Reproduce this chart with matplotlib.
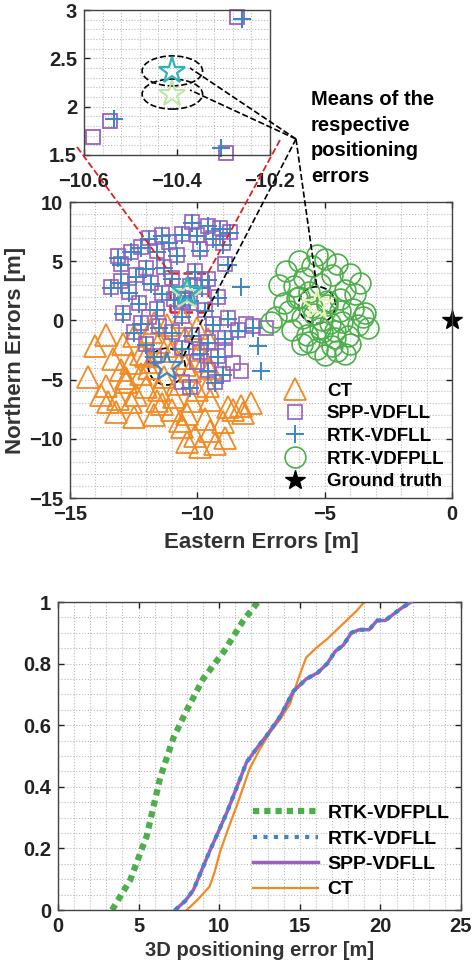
import matplotlib
matplotlib.use("Agg")
import matplotlib.pyplot as plt
import numpy as np
from matplotlib.lines import Line2D
from matplotlib.patches import Rectangle, Ellipse

plt.rcParams['font.family'] = ['Liberation Sans', 'DejaVu Sans']
plt.rcParams['font.weight'] = 'bold'

C_CT = '#F28A24'; C_SPP = '#9B5FC0'; C_RTK = '#3D85C6'; C_FP = '#4DAF4A'

# ---------------- data ----------------
ct_pts = [(-10.6,0.3),(-11.2,-0.4),(-10.0,-0.6),(-11.8,-1.0),(-12.5,-1.3),(-13.6,-1.2),(-14.0,-2.2),(-12.9,-2.0),
          (-11.5,-1.8),(-10.5,-1.5),(-9.6,-1.6),(-12.2,-2.8),(-11.0,-2.6),(-9.9,-2.5),(-13.3,-3.3),(-12.6,-3.6),
          (-11.8,-3.5),(-10.6,-3.2),(-9.7,-3.4),(-14.3,-4.8),(-13.0,-4.2),(-12.2,-4.5),(-11.3,-4.8),(-10.3,-4.3),
          (-9.5,-4.0),(-13.6,-5.5),(-12.8,-5.2),(-12.0,-5.6),(-11.5,-5.9),(-10.8,-5.4),(-10.0,-5.9),(-9.6,-5.5),
          (-13.8,-6.3),(-13.1,-6.6),(-12.4,-6.3),(-11.6,-6.8),(-10.9,-6.5),(-10.2,-6.8),(-9.5,-6.7),(-8.8,-7.3),
          (-8.3,-7.2),(-7.9,-7.0),(-8.6,-7.6),(-13.2,-7.7),(-12.5,-8.2),(-11.7,-8.0),(-11.0,-7.6),(-10.4,-7.9),
          (-9.7,-8.3),(-9.0,-8.6),(-12.6,-6.9),(-11.4,-7.1),(-10.6,-9.0),(-10.1,-9.8),(-9.5,-9.3),(-9.9,-10.7),
          (-10.4,-10.3),(-9.3,-10.4),(-8.9,-9.9),(-13.5,-6.9),(-12.0,-3.0),(-11.9,-4.0),(-10.5,-3.8),(-11.2,-2.2),
          (-11.7,-0.2),(-12.8,-4.9),(-10.7,-8.5),(-8.2,-7.8)]
spp_pts = [(-10.2,8.3),(-9.6,8.0),(-9.1,7.8),(-10.6,7.3),(-11.4,7.2),(-11.9,7.0),(-11.1,6.6),(-10.0,7.2),(-9.4,7.0),
           (-12.2,6.2),(-12.6,5.8),(-13.1,5.4),(-13.0,4.8),(-11.6,5.9),(-10.8,5.5),(-9.9,6.0),(-9.0,6.5),(-8.7,7.5),
           (-11.3,4.5),(-12.0,4.4),(-12.4,3.8),(-13.4,2.8),(-12.7,2.4),(-11.8,3.2),(-11.0,3.6),(-10.1,4.2),(-8.9,4.8),
           (-9.6,3.5),(-12.3,1.5),(-11.6,1.0),(-10.9,1.8),(-9.8,2.8),(-9.2,2.0),(-12.9,0.6),(-12.2,-0.2),(-11.5,-0.5),
           (-10.6,0.4),(-9.7,0.9),(-9.4,-0.3),(-8.8,0.2),(-8.4,-0.8),(-7.8,-0.5),(-7.3,-0.6),(-8.1,-0.3),(-11.0,-1.0),
           (-10.2,-1.2),(-9.6,-1.8),(-8.9,-1.5),(-10.6,-2.3),(-9.9,-2.7),(-9.2,-3.0),(-11.7,-3.0),(-12.0,-2.0),
           (-9.6,-4.2),(-9.0,-4.5),(-8.6,-3.6),(-9.3,-5.2),(-10.3,-5.6),(-10.6,-5.2),(-12.5,-1.0),(-10.3,2.9),
           (-10.5,1.9),(-10.6,1.7),(-10.3,1.5),(-11.4,2.3),(-11.9,0.3),(-13.0,3.3),(-8.3,-4.3),(-8.9,-2.5),(-10.0,-3.5)]
rtk_pts = [(-10.2,8.2),(-9.6,8.0),(-9.1,7.7),(-10.6,7.2),(-11.4,7.1),(-11.9,6.9),(-11.1,6.5),(-10.0,7.1),(-9.4,6.9),
           (-12.2,6.1),(-12.6,5.8),(-13.1,5.3),(-13.0,4.7),(-11.6,5.8),(-10.8,5.4),(-9.9,5.9),(-9.0,6.4),(-8.7,7.4),
           (-11.3,4.4),(-12.0,4.3),(-12.4,3.7),(-13.4,2.7),(-12.7,2.3),(-11.8,3.1),(-11.0,3.5),(-10.1,4.1),(-8.8,4.7),
           (-9.6,3.4),(-12.3,1.4),(-11.6,0.9),(-10.9,1.7),(-9.8,2.7),(-9.2,1.9),(-12.9,0.5),(-12.2,-0.3),(-11.5,-0.6),
           (-10.6,0.3),(-9.7,0.8),(-9.4,-0.4),(-8.8,0.1),(-8.4,-0.9),(-7.8,-0.6),(-11.0,-1.1),(-10.2,-1.3),(-9.6,-1.9),
           (-8.9,-1.6),(-10.6,-2.4),(-9.9,-2.8),(-9.2,-3.1),(-11.7,-3.1),(-12.0,-2.1),(-9.6,-4.3),(-9.0,-4.6),
           (-9.3,-5.3),(-10.3,-5.7),(-12.5,-1.1),(-10.3,2.9),(-10.5,1.9),(-10.3,1.6),(-11.4,2.2),(-13.0,3.2),
           (-7.6,-2.2),(-7.5,-4.3),(-8.3,2.8)]
fp_pts = [(-5.3,5.5),(-6.8,3.0),(-6.5,4.2),(-6.0,5.0),(-5.5,4.6),(-5.0,5.2),(-4.5,4.8),(-4.0,3.9),(-3.6,3.2),
          (-6.2,2.9),(-5.8,3.6),(-5.2,3.1),(-4.7,3.8),(-4.2,2.6),(-3.8,2.2),(-6.6,1.5),(-6.1,1.9),(-5.6,2.4),
          (-4.9,1.6),(-4.4,1.8),(-3.9,1.0),(-3.4,0.6),(-6.9,0.3),(-6.4,0.8),(-5.9,0.2),(-5.4,0.5),(-4.8,-0.2),
          (-4.3,-0.1),(-3.7,-0.4),(-3.3,-0.6),(-6.3,-0.8),(-5.7,-1.2),(-5.1,-1.0),(-4.6,-1.5),(-4.1,-1.3),
          (-5.9,-2.0),(-5.3,-2.4),(-4.7,-2.2),(-4.2,-2.8),(-5.6,-1.8),(-5.0,-2.9),(-4.5,-2.6),(-4.0,-2.0),
          (-5.1,0.0),(-4.4,0.8),(-6.0,2.0),(-5.5,1.1),(-4.9,1.3),(-5.2,-0.6),(-4.6,-0.9),(-7.1,-0.1),(-3.5,0.3)]
inset_spp = [(-10.27,2.93),(-10.545,1.85),(-10.58,1.69),(-10.295,1.52)]
inset_rtk = [(-10.26,2.91),(-10.535,1.87),(-10.305,1.57)]
mean_spp = (-10.41, 2.13)
mean_rtk = (-10.41, 2.37)
mean_ct = (-11.2, -3.9)
mean_fp = (-5.3, 1.3)

cdf_fp_x = [3.35,4.48,5.5,6.34,7.17,8.0,9.0,10.3,11.5,12.4]
cdf_fp_p = [0,0.097,0.24,0.43,0.56,0.65,0.75,0.84,0.94,1.0]
cdf_fll_x = [7.27,7.9,8.4,9.0,9.4,10.0,10.5,11.1,11.7,12.4,13.0,13.8,14.6,15.4,16.1,16.7,17.2,17.7,18.2,18.7,19.3,19.8,20.3,20.8,21.3,21.9]
cdf_fll_p = [0,0.03,0.065,0.14,0.19,0.26,0.32,0.40,0.48,0.53,0.57,0.63,0.71,0.75,0.77,0.80,0.84,0.86,0.90,0.91,0.91,0.94,0.94,0.96,0.98,1.0]
cdf_ct_x = [7.99,8.6,9.4,9.7,10.06,10.6,11.1,11.5,11.9,12.5,13.2,13.8,14.4,14.9,15.4,16.0,16.7,17.3,17.9,18.5,19.0]
cdf_ct_p = [0,0.03,0.076,0.12,0.19,0.27,0.34,0.40,0.46,0.52,0.58,0.62,0.67,0.75,0.82,0.85,0.88,0.91,0.94,0.97,1.0]

W, H = 474, 975
fig = plt.figure(figsize=(W/100, H/100), dpi=100)
def rect(l, t, r, b):
    return [l/W, 1-b/H, (r-l)/W, (b-t)/H]

TS = 14.5
def style(ax, xminor, yminor):
    ax.tick_params(direction='in', top=True, right=True, labelsize=TS, width=1, length=4,
                   colors='#222222', pad=5)
    ax.set_xticks(xminor, minor=True); ax.set_yticks(yminor, minor=True)
    ax.tick_params(which='minor', length=0)
    ax.grid(True, which='both', linestyle=':', color='#bbbbbb', linewidth=0.8)
    ax.set_axisbelow(True)
    for s in ax.spines.values():
        s.set_color('#444444'); s.set_linewidth(1)
    for lab in ax.get_xticklabels() + ax.get_yticklabels():
        lab.set_fontweight('bold')

# inset
ai = fig.add_axes(rect(84, 10, 270, 155))
ai.set_xlim(-10.6, -10.2); ai.set_ylim(1.5, 3)
ai.set_xticks([-10.6, -10.4, -10.2]); ai.set_yticks([1.5, 2, 2.5, 3])
ai.set_yticklabels(['1.5', '2', '2.5', '3'])
style(ai, np.arange(-10.6, -10.19, 0.04), np.arange(1.5, 3.01, 0.1))
ai.tick_params(right=False, top=False)
ai.tick_params(axis='x', pad=12)
ai.plot(*zip(*inset_spp), 's', mfc='none', mec=C_SPP, ms=10, mew=1.3, clip_on=False)
ai.plot(*zip(*inset_rtk), '+', color=C_RTK, ms=13, mew=1.5, clip_on=False)
ai.plot(*mean_spp, '*', mfc='none', mec='#BFE6A8', ms=20, mew=1.5)
ai.plot(*mean_rtk, '*', mfc='none', mec='#2BB5B8', ms=20, mew=1.6)
for m in (mean_rtk, mean_spp):
    ai.add_patch(Ellipse(m, 0.13, 0.31, fill=False, ls='--', color='k', lw=1.2))

# main scatter
am = fig.add_axes(rect(70, 202, 452, 498))
am.set_xlim(-15, 0); am.set_ylim(-15, 10)
am.set_xticks([-15, -10, -5, 0]); am.set_yticks([-15, -10, -5, 0, 5, 10])
style(am, np.arange(-15, 0.01, 1), np.arange(-15, 10.01, 1))
am.plot(*zip(*ct_pts), '^', mfc='none', mec=C_CT, ms=16, mew=1.3, label='CT')
am.plot(*zip(*spp_pts), 's', mfc='none', mec=C_SPP, ms=10, mew=1.2, label='SPP-VDFLL')
am.plot(*zip(*rtk_pts), '+', color=C_RTK, ms=13, mew=1.4, label='RTK-VDFLL')
am.plot(*zip(*fp_pts), 'o', mfc='none', mec=C_FP, ms=15, mew=1.2, label='RTK-VDFPLL')
am.plot(0, 0, '*', color='k', ms=15, label='Ground truth', clip_on=False)
am.plot(*mean_spp, '*', mfc='none', mec='#BFE6A8', ms=22, mew=1.5)
am.plot(*mean_rtk, '*', mfc='none', mec='#2BB5B8', ms=22, mew=1.6)
am.plot(*mean_ct, '*', mfc='none', mec=C_RTK, ms=22, mew=1.6)
am.plot(*mean_fp, '*', mfc='none', mec='#E6F2B0', ms=22, mew=1.6)
am.add_patch(Ellipse(mean_fp, 1.45, 3.1, fill=False, ls='--', color='k', lw=1.3))
am.add_patch(Ellipse(mean_ct, 1.45, 3.1, fill=False, ls='--', color='k', lw=1.3))
am.add_patch(Rectangle((-11.07, 0.73), 1.5, 3.24, fill=False, ls='--', ec='#E02020', lw=1.8))
am.set_xlabel('Eastern Errors [m]', fontsize=16, fontweight='bold', color='#333333', labelpad=6)
am.set_ylabel('Northern Errors [m]', fontsize=16, fontweight='bold', color='#333333', labelpad=2)
leg = am.legend(loc='lower right', frameon=False, fontsize=13.5, handletextpad=0.9,
                borderaxespad=0.0, labelspacing=0.3, handlelength=1.6)
for t in leg.get_texts():
    t.set_fontweight('bold')

# connecting lines (pixel coords)
def fline(p, q, **kw):
    fig.add_artist(Line2D([p[0]/W, q[0]/W], [1-p[1]/H, 1-q[1]/H], transform=fig.transFigure, **kw))
fline((77, 147), (170, 273), color='#E02020', ls='--', lw=1.3)
fline((280, 140), (208, 273), color='#E02020', ls='--', lw=1.3)
piv = (296, 139)
fline(piv, (190, 68), color='k', ls='--', lw=1.2)
fline(piv, (190, 90), color='k', ls='--', lw=1.2)
fline(piv, (317, 288), color='k', ls='--', lw=1.2)
fline(piv, (183, 357), color='k', ls='--', lw=1.2)
fig.text(311/W, 1-90/H, 'Means of the\nrespective\npositioning\nerrors', fontsize=14.5,
         fontweight='bold', va='top', ha='left', linespacing=1.45)

# CDF
ac = fig.add_axes(rect(58, 602, 461, 910))
ac.set_xlim(0, 25); ac.set_ylim(0, 1)
ac.set_xticks([0, 5, 10, 15, 20, 25]); ac.set_yticks([0, 0.2, 0.4, 0.6, 0.8, 1])
ac.set_yticklabels(['0', '0.2', '0.4', '0.6', '0.8', '1'])
style(ac, np.arange(0, 25.01, 1), np.arange(0, 1.001, 0.05))
ac.plot(cdf_fp_x, cdf_fp_p, color=C_FP, ls=(0, (1, 0.8)), lw=4.5, label='RTK-VDFPLL')
ac.plot(cdf_fll_x, cdf_fll_p, color=C_SPP, lw=2.5, zorder=3, label='SPP-VDFLL')
ac.plot(cdf_fll_x, cdf_fll_p, color=C_RTK, ls=(0, (1, 1.5)), lw=3, zorder=4, label='RTK-VDFLL')
ac.plot(cdf_ct_x, cdf_ct_p, color=C_CT, lw=1.6, label='CT')
h, l = ac.get_legend_handles_labels()
order = [0, 2, 1, 3]
leg2 = ac.legend([h[i] for i in order], [l[i] for i in order], loc='lower right', frameon=False,
                 fontsize=14, handlelength=3.3, labelspacing=0.4, borderaxespad=0.2, handletextpad=0.5)
for t in leg2.get_texts():
    t.set_fontweight('bold')
ac.set_xlabel('3D positioning error [m]', fontsize=14.5, fontweight='bold', color='#333333')

fig.savefig('out.png', dpi=100)
